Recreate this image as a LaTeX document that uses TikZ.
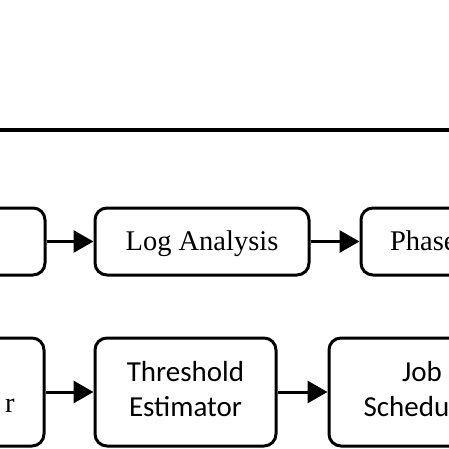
\documentclass[tikz,border=0pt]{standalone}
\usepackage{fontspec}
\setmainfont{Liberation Serif}
\newfontfamily\calibri{Carlito}
\usetikzlibrary{arrows.meta}
\begin{document}
\begin{tikzpicture}[x=0.5pt,y=-0.5pt,
        block/.style={draw, line width=1.5pt, rounded corners=6pt, inner sep=0pt},
        short/.style={block, minimum height=33.5pt, font=\fontsize{14.25}{17}\selectfont, text height=9.75pt, text depth=1.25pt},
        tall/.style={block, minimum height=54pt, align=center, text depth=3pt, font=\calibri\fontsize{14.5}{17.5}\selectfont},
        flow/.style={-{Triangle[length=10pt,width=11pt]}, line width=1.5pt}]
        \useasboundingbox (0,0) rectangle (449,449);
        \clip (0,0) rectangle (449,449);

        \draw [line width=1.6pt] (0,130) -- (449,130);

        \node [short, minimum width=97.5pt] (src) at (-52.5,241.5) {};
        \node [short, minimum width=107pt] (log) at (202,241.5) {Log Analysis};
        \node [short, minimum width=107pt, text width=78pt, inner xsep=14.5pt, align=left] (phase) at (468,241.5) {Phase};

        \node [block, minimum width=90pt, minimum height=54pt] (mon) at (-46,392) {};
        \node [anchor=base east, inner sep=0pt, font=\fontsize{14.25}{17}\selectfont] (montxt) at (15,412) {r};
        \node [tall, minimum width=90.5pt] (thr) at (185.5,392) {Threshold\\Estimator};
        \node [tall, minimum width=93pt] (job) at (422,392) {Job\\Schedu\phantom{ler}};

        \draw [flow] (src) -- (log);
        \draw [flow] (log) -- (phase);
        \draw [flow] (mon) -- (thr);
        \draw [flow] (thr) -- (job);
\end{tikzpicture}
\end{document}
